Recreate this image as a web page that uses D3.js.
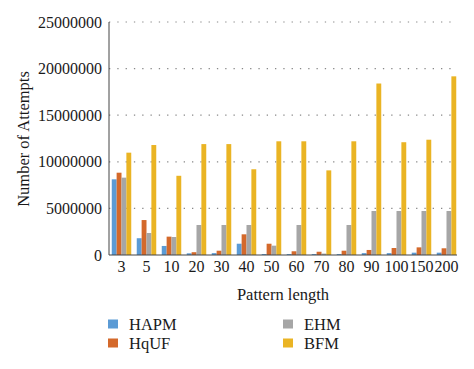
<!DOCTYPE html>
<html><head><meta charset="utf-8">
<script src="https://cdn.jsdelivr.net/npm/d3@7"></script>
<style>body{margin:0;background:#fff;}svg{display:block;} svg text{font-family:"Liberation Serif","Times New Roman","DejaVu Serif","Noto Serif",serif !important;}</style>
</head><body>
<svg id="c" width="474" height="369"></svg>
<script>
const categories = ["3","5","10","20","30","40","50","60","70","80","90","100","150","200"];
const seriesNames = ["HAPM","HqUF","EHM","BFM"];
const HAPM = [8120000,1800000,970000,180000,200000,1210000,100000,100000,100000,100000,200000,200000,250000,250000];
const HqUF = [8830000,3750000,1970000,300000,460000,2220000,1210000,400000,350000,460000,540000,750000,820000,720000];
const EHM  = [8300000,2360000,1930000,3220000,3220000,3220000,1000000,3220000,150000,3220000,4720000,4720000,4720000,4720000];
const BFM  = [10980000,11800000,8500000,11900000,11900000,9200000,12200000,12200000,9080000,12200000,18400000,12100000,12370000,19170000];
const yTicks = [0,5000000,10000000,15000000,20000000,25000000];
const colors = ["#5b9bd5","#d4692b","#a6a6a6","#eab424"];
const seriesVals = [HAPM,HqUF,EHM,BFM];

const svg = d3.select("#c");
const m = {l:109, r:459, t:22, b:255};
const x = d3.scaleBand().domain(categories).range([m.l, m.r]).paddingInner(0.22).paddingOuter(0.11);
const xs = d3.scaleBand().domain(seriesNames).range([0, x.bandwidth()]);
const y = d3.scaleLinear().domain([0,25000000]).range([m.b, m.t]);

// grid
svg.append("g").selectAll("line").data(yTicks.slice(1)).join("line")
  .attr("x1", m.l).attr("x2", 457).attr("y1", d=>y(d)).attr("y2", d=>y(d))
  .attr("stroke","#888").attr("stroke-width",1.2).attr("stroke-dasharray","1.3,7");

// bars
const g = svg.append("g");
seriesNames.forEach((s,i)=>{
  g.append("g").selectAll("rect").data(categories).join("rect")
    .attr("x", c=>x(c)+xs(s)).attr("width", xs.bandwidth())
    .attr("y", (c,j)=>y(seriesVals[i][j])).attr("height",(c,j)=>y(0)-y(seriesVals[i][j]))
    .attr("fill", colors[i]);
});

// y axis
const ya = svg.append("g").attr("transform",`translate(${m.l},0)`)
  .call(d3.axisLeft(y).tickValues(yTicks).tickSize(0).tickPadding(7).tickFormat(d3.format("d")));
ya.attr("font-family",null);
ya.select(".domain").attr("stroke","#444").attr("d",`M0,${m.t}V${m.b}`);
ya.selectAll("text").attr("font-size",16).attr("fill","#1a1a1a");

// x axis
const xa = svg.append("g").attr("transform",`translate(0,${m.b})`)
  .call(d3.axisBottom(x).tickSize(0).tickPadding(6));
xa.attr("font-family",null);
xa.select(".domain").attr("stroke","#444").attr("d",`M${m.l},0H457`);
xa.selectAll("text").attr("font-size",16).attr("fill","#1a1a1a");

svg.append("text").attr("transform","translate(29,139) rotate(-90)").attr("text-anchor","middle")
  .attr("font-size",16.5).attr("fill","#1a1a1a").text("Number of Attempts");
svg.append("text").attr("x",283).attr("y",300).attr("text-anchor","middle")
  .attr("font-size",16.5).attr("fill","#1a1a1a").text("Pattern length");

// legend
const legPos = [[108,324],[108,343],[283,324],[283,343]];
seriesNames.forEach((s,i)=>{
  const [lx,ly] = legPos[i];
  svg.append("rect").attr("x",lx).attr("y",ly-4.5).attr("width",10).attr("height",9).attr("fill",colors[i]);
  svg.append("text").attr("x",lx+21).attr("y",ly+5.5).attr("font-size",16.5).attr("fill","#1a1a1a").text(s);
});
</script>
</body></html>
